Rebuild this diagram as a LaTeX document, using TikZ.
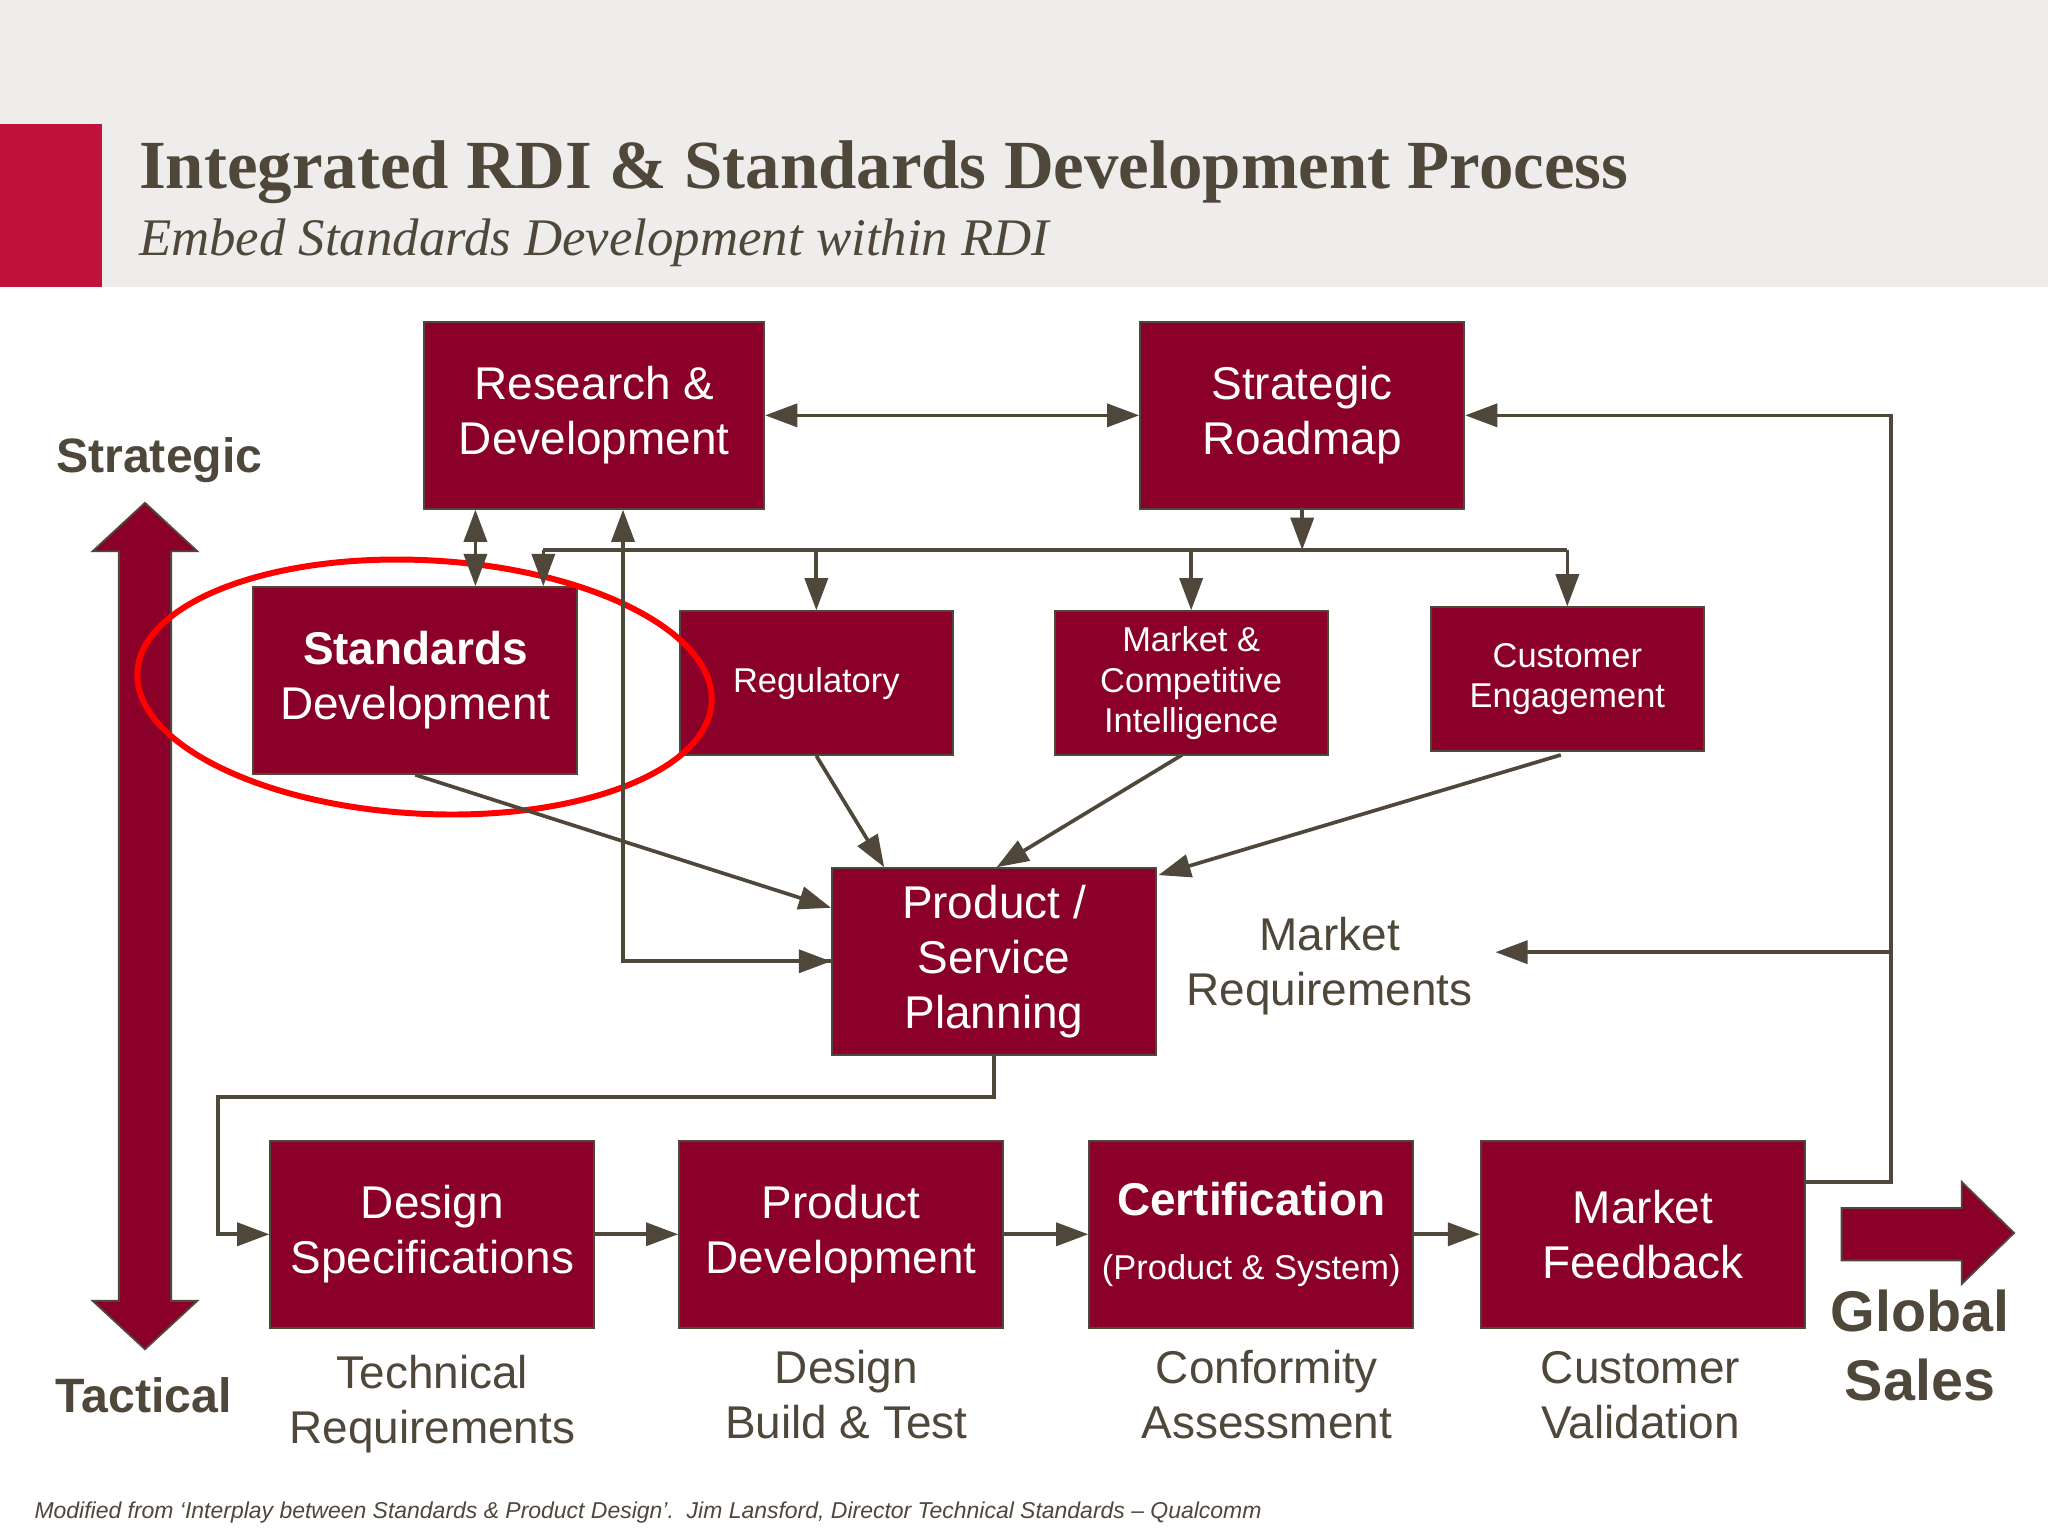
\documentclass[tikz,border=0pt]{standalone}
\usepackage{fontspec}
\setmainfont{Liberation Sans}
\newfontfamily\titlefont{Liberation Serif}
\usetikzlibrary{arrows.meta,positioning,shapes.arrows}
\definecolor{boxred}{HTML}{8A0029}
\definecolor{ink}{HTML}{4E473A}
\definecolor{band}{HTML}{EFEDEB}
\definecolor{tab}{HTML}{C0123C}
\begin{document}
\begin{tikzpicture}[
    x=0.01cm, y=-0.01cm,
    box/.style={rectangle, draw=ink, fill=boxred, text=white, align=center, inner sep=0pt, font=\fontsize{10}{12}\selectfont},
    smallbox/.style={box, font=\fontsize{7.5}{8.8}\selectfont},
    note/.style={text=ink, align=center, font=\fontsize{10}{12}\selectfont},
    side/.style={text=ink, align=center, font=\bfseries\fontsize{10.5}{14.5}\selectfont},
    arrow/.style={-{Triangle[length=7pt,width=5pt]}, ink, line width=0.8pt},
    darrow/.style={{Triangle[length=7pt,width=5pt]}-{Triangle[length=7pt,width=5pt]}, ink, line width=0.8pt},
    line/.style={ink, line width=0.8pt}
]
\useasboundingbox (0,0) rectangle (1568,1176);
\fill[white] (0,0) rectangle (1568,1176);
\fill[band] (0,0) rectangle (1568,220);
\fill[tab] (0,95) rectangle (78,220);
\node[anchor=west, text=ink, font=\titlefont\bfseries\fontsize{15}{18}\selectfont] (title) at (94,132) {Integrated RDI \& Standards Development Process};
\node[anchor=west, text=ink, font=\titlefont\itshape\fontsize{11.5}{14}\selectfont] (subtitle) at (94,186) {Embed Standards Development within RDI};

% top row
\node[box, minimum width=260\pgflinewidth, minimum width=2.6cm, minimum height=1.43cm] (rd) at (455,318) {Research \&\\Development};
\node[box, minimum width=2.48cm, minimum height=1.43cm] (road) at (997,318) {Strategic\\Roadmap};
% middle row
\node[box, minimum width=2.48cm, minimum height=1.43cm] (std) at (318,521) {\textbf{Standards}\\Development};
\node[smallbox, minimum width=2.09cm, minimum height=1.1cm] (reg) at (625,523) {Regulatory};
\node[smallbox, minimum width=2.09cm, minimum height=1.1cm] (mci) at (912,523) {Market \&\\Competitive\\Intelligence};
\node[smallbox, minimum width=2.09cm, minimum height=1.1cm] (cust) at (1200,520) {Customer\\Engagement};
\node[box, minimum width=2.48cm, minimum height=1.43cm] (psp) at (761,736) {Product /\\Service\\Planning};
% bottom row
\node[box, minimum width=2.48cm, minimum height=1.43cm] (dspec) at (331,945) {Design\\Specifications};
\node[box, minimum width=2.48cm, minimum height=1.43cm] (pdev) at (644,945) {Product\\Development};
\node[box, minimum width=2.48cm, minimum height=1.43cm] (cert) at (958,945) {\textbf{Certification}\\[2pt]{\fontsize{7.5}{9}\selectfont(Product \& System)}};
\node[box, minimum width=2.48cm, minimum height=1.43cm] (mfb) at (1258,945) {Market\\Feedback};

% labels
\node[note] (techreq) at (331,1075) {Technical\\Requirements};
\node[note] (dbt) at (648,1068) {Design\\Build \& Test};
\node[note] (conf) at (970,1068) {Conformity\\Assessment};
\node[note] (cval) at (1256,1068) {Customer\\Validation};
\node[note] (mreq) at (1018,740) {Market\\Requirements};
\node[side] (strat) at (122,352) {Strategic};
\node[side] (tact) at (110,1068) {Tactical};
\node[side, font=\bfseries\fontsize{12.5}{15}\selectfont] (gsales) at (1470,1030) {Global\\Sales};
\node[anchor=west, text=ink, font=\itshape\fontsize{5}{6}\selectfont] (foot) at (14,1158) {Modified from `Interplay between Standards \& Product Design'.\ \ Jim Lansford, Director Technical Standards -- Qualcomm};

% big arrows
\fill[boxred, draw=ink, line width=0.4pt] (111,385) -- (151,422) -- (131,422) -- (131,996) -- (151,996) -- (111,1033) -- (71,996) -- (91,996) -- (91,422) -- (71,422) -- cycle;
\fill[boxred, draw=ink, line width=0.4pt] (1410,925) -- (1502,925) -- (1502,905) -- (1542,944) -- (1502,983) -- (1502,965) -- (1410,965) -- cycle;

% ellipse
\draw[red, line width=1.3pt, rotate around={-3:(325,526)}] (325,526) ellipse (2.2cm and 0.97cm);

% connectors
\coordinate (bus) at (997,421);
\draw[darrow] (rd.east) -- (road.west);
\draw[arrow] (road.south) -- (bus);
\draw[line] (416,421) -- (1200,421);
\draw[arrow] (416,421) -- (std.north -| 416,0);
\draw[arrow] (625,421) -- (reg.north);
\draw[arrow] (912,421) -- (mci.north);
\draw[arrow] (1200,421) -- (cust.north);
\draw[darrow] (rd.south -| 364,0) -- (std.north -| 364,0);
\draw[arrow] (psp.west |- 0,736) -- (477,736) -- (rd.south -| 477,0);
\draw[arrow] (477,736) -- (psp.west);
\draw[arrow] (std.south) -- (psp.west |- 0,695);
\draw[arrow] (reg.south) -- (677,664);
\draw[arrow] (905,578) -- (763,664);
\draw[arrow] (1195,578) -- (887,670);
\draw[arrow] (mfb.east |- 0,905) -- (1448,905) -- (1448,318) -- (road.east);
\draw[arrow] (1448,729) -- (1145,729);
\draw[arrow] (psp.south) -- (761,840) -- (167,840) -- (167,945) -- (dspec.west);
\draw[arrow] (dspec) -- (pdev);
\draw[arrow] (pdev) -- (cert);
\draw[arrow] (cert) -- (mfb);
\end{tikzpicture}
\end{document}
